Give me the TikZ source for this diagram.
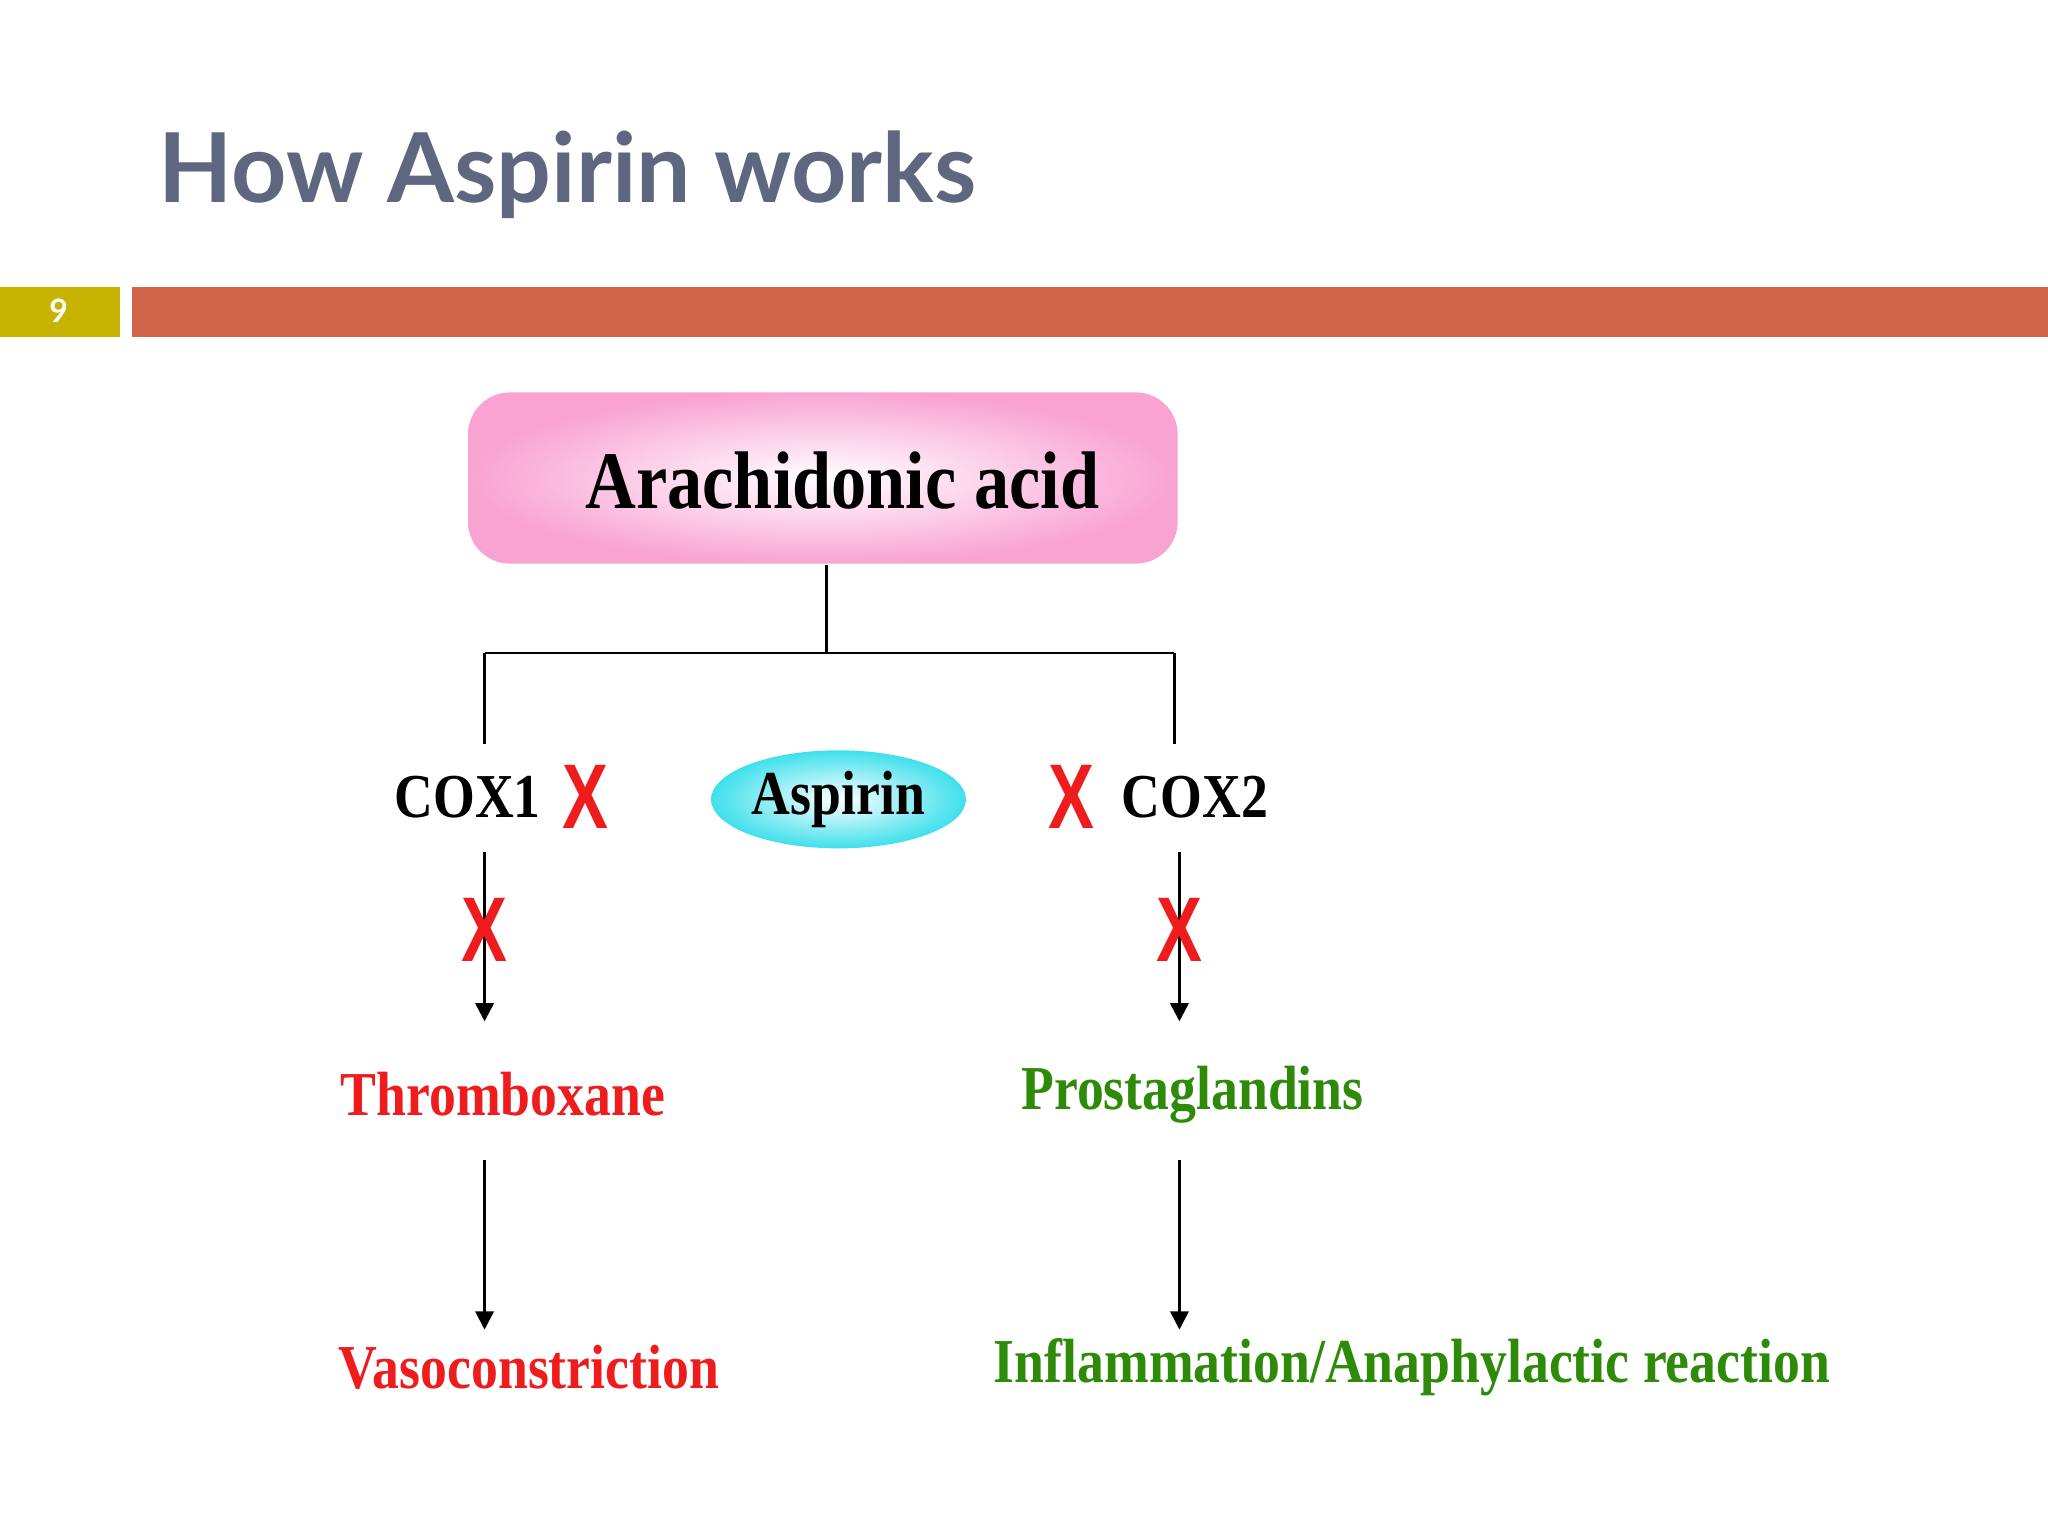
\documentclass[tikz,border=0pt]{standalone}
\usepackage{fontspec}
\setmainfont{Liberation Serif}[FakeStretch=0.86]
\newfontfamily\titlefont{Lato}
\newfontfamily\xfont{Liberation Sans}[FakeStretch=0.75]
\usetikzlibrary{arrows.meta,shapes.geometric}
\definecolor{tgray}{HTML}{5F6680}
\definecolor{bary}{HTML}{C8B400}
\definecolor{baro}{HTML}{D0654A}
\definecolor{pk}{HTML}{F9A3D3}
\definecolor{cy}{HTML}{3FE0EC}
\definecolor{gr}{HTML}{2E8B0A}
\definecolor{rd}{HTML}{EE1C1C}
\tikzset{
  lbl/.style={font=\bfseries\fontsize{13.6}{16}\selectfont, inner sep=0pt},
  big/.style={font=\bfseries\fontsize{17.8}{21}\selectfont, inner sep=0pt},
  xmark/.style={text=rd, font=\xfont\fontsize{20}{24}\selectfont, inner sep=0pt},
  con/.style={line width=0.6pt},
  arr/.style={con,-{Triangle[length=4pt,width=4pt]}}
}
\begin{document}
\begin{tikzpicture}[x=0.01cm,y=-0.01cm]
\useasboundingbox (0,0) rectangle (1568,1176);
\fill[white] (0,0) rectangle (1568,1176);
\node[anchor=base west,text=tgray,font=\titlefont\bfseries\fontsize{21}{25}\selectfont,inner sep=0pt] (title) at (121,155) {How Aspirin works};
\fill[bary] (0,220) rectangle (92,258);
\fill[baro] (101,220) rectangle (1568,258);
\node[text=white,font=\titlefont\bfseries\fontsize{7}{8}\selectfont] (num) at (45,238) {9};
\node[rounded corners=0.32cm, minimum width=5.43cm, minimum height=1.31cm, shading=radial, inner color=white, outer color=pk, big] (aa) at (630,366) {};
\node[big] (aat) at (645,368) {Arachidonic acid};
\coordinate (j0) at (633,500);
\coordinate (jl) at (371,500);
\coordinate (jr) at (899,500);
\coordinate (el) at (371,570);
\coordinate (er) at (899,570);
\draw[con] (aa.south -| j0) -- (j0);
\draw[con] (jl) -- (jr);
\draw[con] (jl) -- (el);
\draw[con] (jr) -- (er);
\node[lbl] (cox1) at (358,610) {COX1};
\node[xmark] (x1) at (448,610) {\textbf{X}};
\node[ellipse, minimum width=1.95cm, minimum height=0.75cm, shading=radial, inner color=white, outer color=cy, lbl] (asp) at (642,612) {Aspirin};
\node[xmark] (x2) at (820,610) {\textbf{X}};
\node[lbl] (cox2) at (915,610) {COX2};
\coordinate (a1s) at (371,652); \coordinate (a1e) at (371,782);
\coordinate (a2s) at (903,652); \coordinate (a2e) at (903,782);
\draw[arr] (a1s) -- (a1e);
\draw[arr] (a2s) -- (a2e);
\node[xmark] (x3) at (371,712) {\textbf{X}};
\node[xmark] (x4) at (903,712) {\textbf{X}};
\node[lbl,text=rd] (thr) at (385,838) {Thromboxane};
\node[lbl,text=gr] (pro) at (913,838) {Prostaglandins};
\coordinate (b1s) at (371,888); \coordinate (b1e) at (371,1018);
\coordinate (b2s) at (903,888); \coordinate (b2e) at (903,1018);
\draw[arr] (b1s) -- (b1e);
\draw[arr] (b2s) -- (b2e);
\node[lbl,text=rd] (vaso) at (405,1047) {Vasoconstriction};
\node[lbl,text=gr] (infl) at (1081,1047) {Inflammation/Anaphylactic reaction};
\end{tikzpicture}
\end{document}
